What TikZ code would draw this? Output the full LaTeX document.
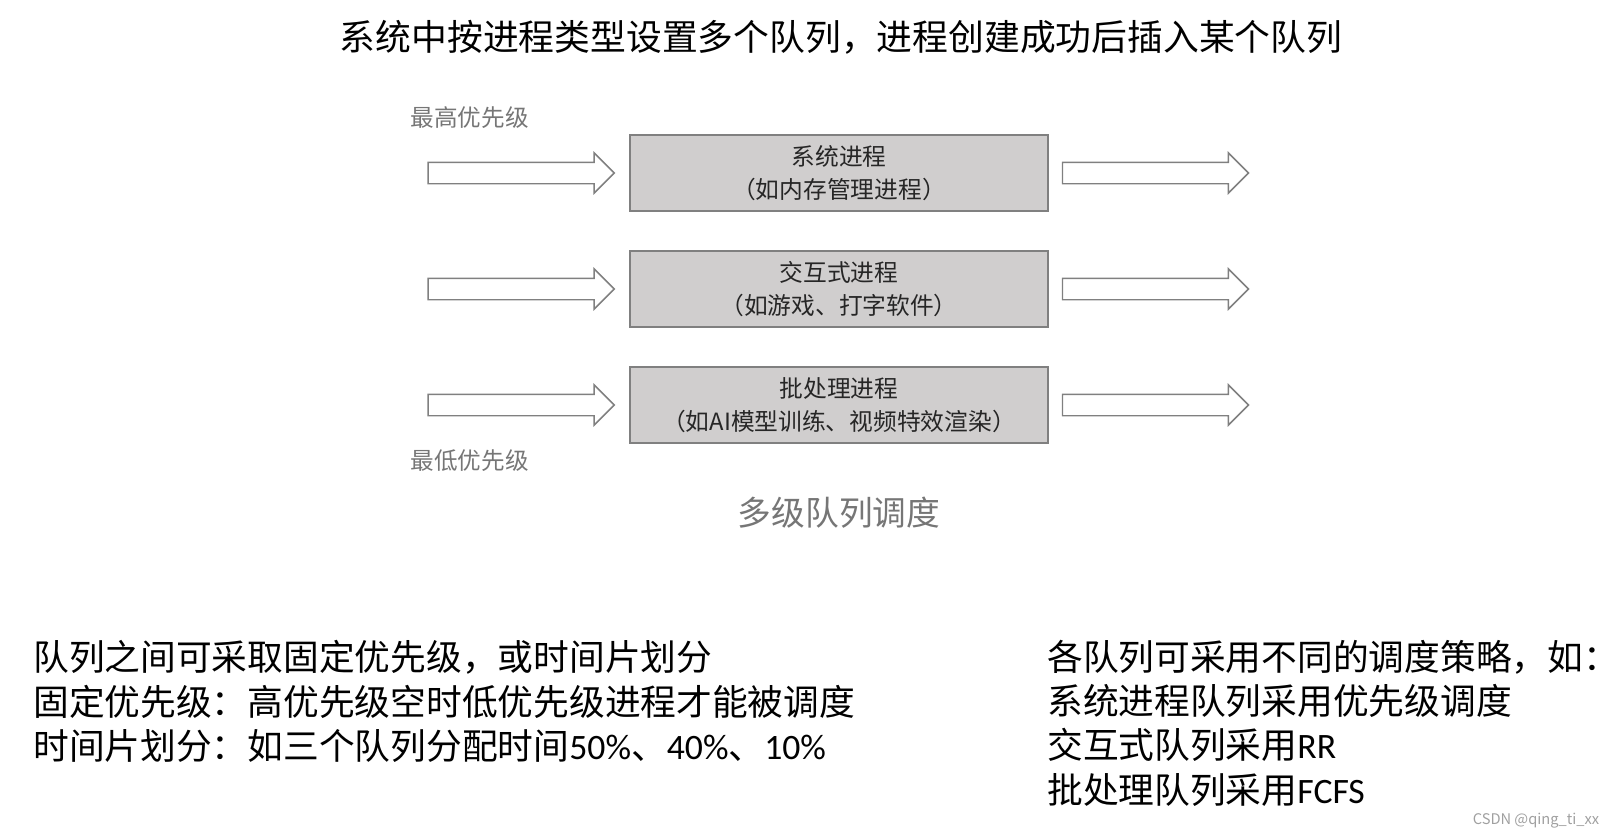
\documentclass[tikz,border=0pt]{standalone}
\usepackage{fontspec}
\setmainfont{Noto Sans CJK SC}
\newfontfamily\latinfont{Carlito}
\usetikzlibrary{positioning,shapes.arrows}

\definecolor{boxgray}{RGB}{208,206,206}
\definecolor{linegray}{RGB}{128,128,128}
\definecolor{labelgray}{RGB}{118,118,118}
\definecolor{markgray}{RGB}{160,160,160}

\tikzset{
  queuebox/.style={draw=linegray, fill=boxgray, line width=1.1pt,
    minimum width=313.5pt, minimum height=57pt, inner sep=0pt,
    align=center, text=black!85, font=\fontsize{17.8pt}{24.75pt}\selectfont},
  blockarrow/.style={single arrow, draw=linegray, fill=white, line width=1.1pt,
    minimum height=139.5pt, inner sep=7.5pt, single arrow head extend=7.1pt},
  prio/.style={anchor=west, text=labelgray, font=\fontsize{17.7pt}{20pt}\selectfont},
  note/.style={anchor=west, align=left, inner sep=0pt,
    font=\fontsize{26.8pt}{33.2pt}\selectfont}
}

\begin{document}
\begin{tikzpicture}[x=0.75pt, y=-0.75pt]
\useasboundingbox (0,0) rectangle (1616,839);

\node (title) at (841,37) {\fontsize{26.85pt}{30pt}\selectfont 系统中按进程类型设置多个队列，进程创建成功后插入某个队列};

% the three queues
\node[queuebox] (sysq) at (839,173) {系统进程\\（如内存管理进程）};
\node[queuebox] (interq) at (839,289) {交互式进程\\（如游戏、打字软件）};
\node[queuebox] (batchq) at (839,405) {批处理进程\\（如AI模型训练、视频特效渲染）};

\node[blockarrow, left=10.5pt of sysq] (sysin) {};
\node[blockarrow, right=9.75pt of sysq] (sysout) {};
\node[blockarrow, left=10.5pt of interq] (interin) {};
\node[blockarrow, right=9.75pt of interq] (interout) {};
\node[blockarrow, left=10.5pt of batchq] (batchin) {};
\node[blockarrow, right=9.75pt of batchq] (batchout) {};

\node[prio] (high) at (406,118) {最高优先级};
\node[prio] (low) at (406,461) {最低优先级};

\node[text=labelgray, font=\fontsize{25.3pt}{28pt}\selectfont] (caption) at (839,513) {多级队列调度};

% notes at the bottom
\node[note] (leftnote) at (33,701.5) {队列之间可采取固定优先级，或时间片划分\\
固定优先级：高优先级空时低优先级进程才能被调度\\
时间片划分：如三个队列分配时间{\latinfont 50\%}、{\latinfont 40\%}、{\latinfont 10\%}};
\node[note] (rightnote) at (1047,723) {各队列可采用不同的调度策略，如：\\
系统进程队列采用优先级调度\\
交互式队列采用{\latinfont RR}\\
批处理队列采用{\latinfont FCFS}};

\node[text=markgray, font=\fontsize{11pt}{12pt}\selectfont] (mark) at (1536,821) {CSDN @qing\_ti\_xx};
\end{tikzpicture}
\end{document}
